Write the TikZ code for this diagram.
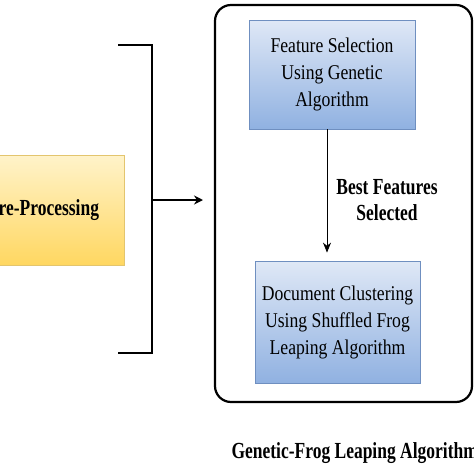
\documentclass[tikz,border=0pt]{standalone}
\usepackage{fontspec}
\setmainfont{Liberation Serif}[FakeStretch=0.84, BoldFeatures={FakeStretch=0.76}]
\usepackage{tikz}
\usepackage{xcolor}
\usetikzlibrary{positioning, arrows.meta}
\definecolor{boxblue}{HTML}{6F8FC0}
\definecolor{blueTop}{HTML}{DFE8F6}
\definecolor{blueBot}{HTML}{90B1E1}
\definecolor{boxyellow}{HTML}{E3C56E}
\definecolor{yellowTop}{HTML}{FFF3CA}
\definecolor{yellowBot}{HTML}{FFD761}

\begin{document}
\begin{tikzpicture}[x=1pt, y=-1pt,
    stepblue/.style={draw=boxblue, line width=0.8pt, top color=blueTop, bottom color=blueBot, align=center, font=\fontsize{21}{27}\selectfont},
    stepyellow/.style={draw=boxyellow, line width=0.8pt, top color=yellowTop, bottom color=yellowBot, align=center, font=\bfseries\fontsize{23}{26}\selectfont},
    boldtext/.style={align=center, font=\bfseries\fontsize{23}{26}\selectfont}]
                    \clip (0, 0) rectangle (474, 474);
                    \useasboundingbox (0, 0) rectangle (474, 474);
                    \node[stepyellow, minimum width=161pt, minimum height=110pt] (pre) at (43.5, 210) {Pre-Processing};
                    \node[draw, line width=2.2pt, rounded corners=16pt, minimum width=257pt, minimum height=397pt] (gfl) at (343.5, 203.5) {};
                    \node[stepblue, minimum width=166pt, minimum height=109pt] (fs) at (332, 74.5) {Feature Selection\\Using Genetic\\Algorithm};
                    \node[stepblue, minimum width=165pt, minimum height=122pt] (dc) at (337.5, 322) {Document Clustering\\Using Shuffled Frog\\Leaping Algorithm};
                    \node[boldtext] (best) at (387, 200) {Best Features\\Selected};
                    \node[boldtext, anchor=west] (title) at (228, 453) {Genetic-Frog Leaping Algorithm};

                    \coordinate (top) at (118, 45);
                    \coordinate (bottom) at (118, 353);
                    \coordinate (join) at (152, 200);
                    \coordinate (tip) at (203, 200);
                    \draw[line width=2pt] (top) -- (top -| join) -- (bottom -| join) -- (bottom);
                    \draw[-{Stealth[length=9pt, width=9pt]}, line width=2.4pt] (join) -- (tip);
                    \draw[-{Stealth[length=10pt, width=8pt]}, line width=0.8pt, shorten >=8pt] ([xshift=-5pt]fs.south) -- ([xshift=-5pt]fs.south |- dc.north);
                \end{tikzpicture}
\end{document}
